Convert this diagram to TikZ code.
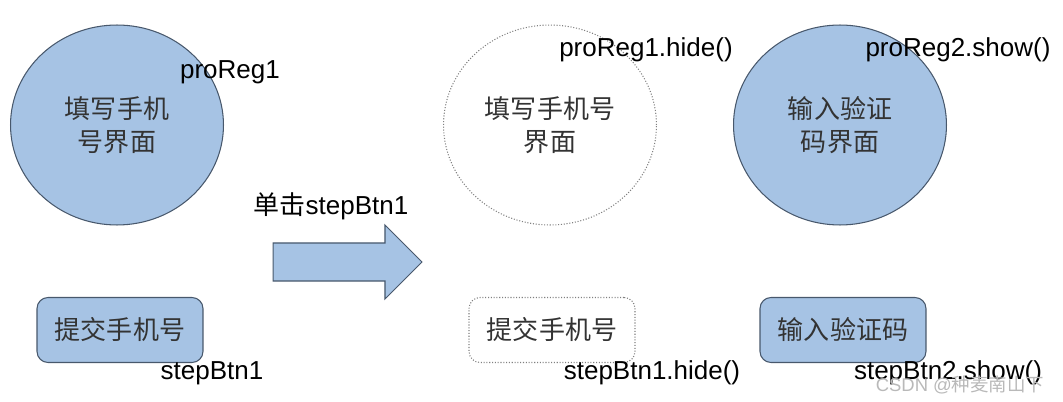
\documentclass[tikz,border=0pt]{standalone}
\usepackage{fontspec}
\setmainfont{Liberation Sans}
\newfontfamily\cjk{Noto Sans CJK SC}
\usetikzlibrary{shapes.geometric,shapes.arrows}
\definecolor{regfill}{RGB}{166,195,228}
\definecolor{regline}{RGB}{72,88,108}
\tikzset{
  region/.style={
    ellipse, draw=regline, fill=regfill, line width=0.6pt,
    minimum width=4.26cm, minimum height=4cm, inner sep=0pt,
    font=\fontsize{14.8}{19}\selectfont\cjk, align=center, text=black!80
  },
  hiddenregion/.style={
    region, draw=gray, fill=white, densely dotted
  },
  button/.style={
    rectangle, rounded corners=0.22cm, draw=regline, fill=regfill,
    line width=0.6pt, minimum width=3.32cm, minimum height=1.3cm,
    font=\fontsize{14.8}{19}\selectfont\cjk, align=center, text=black!80
  },
  hiddenbutton/.style={
    button, draw=gray, fill=white, densely dotted
  },
  apitext/.style={
    font=\fontsize{14.8}{18}\selectfont, inner sep=0pt, text=black
  },
  clickarrow/.style={
    single arrow, draw=regline, fill=regfill, line width=0.6pt,
    minimum height=2.98cm, inner xsep=0pt, inner ysep=0.37cm,
    single arrow head extend=0.36cm
  },
}

\begin{document}
\begin{tikzpicture}[x=0.02cm, y=-0.02cm]
  \useasboundingbox (0,0) rectangle (1063,402);

  % step 1: phone number screen
  \node[region] (phoneReg) at (117,125) {填写手机\\号界面};
  \node[apitext] (phoneRegName) at (230,72) {proReg1};
  \node[button] (submitBtn) at (120,330) {提交手机号};
  \node[apitext] (submitBtnName) at (212,373) {stepBtn1};

  % click
  \node[clickarrow] (click) at (338,262) {};
  \node[apitext] (clickText) at (331,206) {{\cjk 单击}stepBtn1};

  % step 2: phone screen hidden
  \node[hiddenregion] (phoneRegHidden) at (550,125) {填写手机号\\界面};
  \node[apitext] (hideReg) at (646,50) {proReg1.hide()};
  \node[hiddenbutton] (submitBtnHidden) at (552,330) {提交手机号};
  \node[apitext] (hideBtn) at (652,373) {stepBtn1.hide()};

  % step 2: code screen shown
  \node[region] (codeReg) at (840,125) {输入验证\\码界面};
  \node[apitext] (showReg) at (958,50) {proReg2.show()};
  \node[button] (codeBtn) at (843,330) {输入验证码};
  \node[apitext] (showBtn) at (948,373) {stepBtn2.show()};

  \node[font=\fontsize{10.5}{12}\selectfont, text=gray!55, inner sep=0pt]
    (mark) at (960,385) {CSDN @{\cjk 种麦南山下}};
\end{tikzpicture}
\end{document}
